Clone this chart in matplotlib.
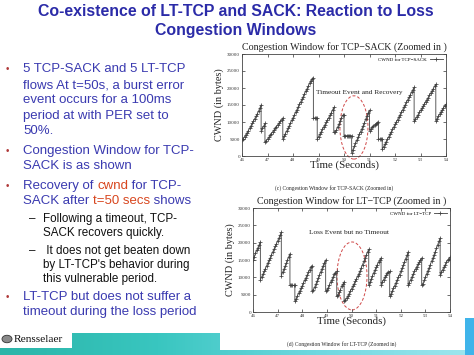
import matplotlib
matplotlib.use('Agg')
import matplotlib.pyplot as plt
from matplotlib.patches import Ellipse, Rectangle, Circle
from matplotlib.colors import LinearSegmentedColormap
import numpy as np

# ---------------- data ----------------
sack_t = [46.00, 46.05, 46.10, 46.15, 46.20, 46.25, 46.30, 46.35, 46.40, 46.45, 46.50, 46.55, 46.60, 46.65, 46.70, 46.75,
          46.75, 46.80, 46.85, 46.90,
          46.90, 46.95, 47.00, 47.05, 47.10, 47.15, 47.20, 47.25, 47.30, 47.35, 47.40, 47.45, 47.50, 47.55, 47.60,
          47.60, 47.65, 47.70, 47.75, 47.80, 47.85, 47.90, 47.95, 48.00, 48.05, 48.10, 48.15, 48.20, 48.25, 48.30,
          48.35, 48.40, 48.45, 48.50, 48.55, 48.60, 48.65, 48.70, 48.75, 48.80,
          48.80, 48.85, 48.90, 48.95,
          48.95, 49.00, 49.05, 49.10, 49.15, 49.20, 49.25, 49.30, 49.35, 49.40, 49.45, 49.50, 49.55, 49.60,
          49.60, 49.65, 49.70, 49.75, 49.80, 49.85, 49.90, 49.95, 50.00,
          50.00, 50.05, 50.10, 50.15, 50.20, 50.25, 50.30,
          50.30, 50.35, 50.40, 50.45, 50.50, 50.55, 50.60, 50.65, 50.70, 50.75, 50.80, 50.85, 50.90, 50.95, 51.00,
          51.00, 51.05, 51.10, 51.15, 51.20, 51.25, 51.30, 51.35,
          51.35, 51.40, 51.45, 51.50,
          51.50, 51.55, 51.60, 51.65, 51.70, 51.75, 51.80, 51.85, 51.90, 51.95, 52.00, 52.05, 52.10, 52.15, 52.20,
          52.25, 52.30, 52.35, 52.40, 52.45, 52.50, 52.55, 52.60, 52.65, 52.70, 52.75,
          52.75, 52.80, 52.85, 52.90, 52.95, 53.00, 53.05, 53.10, 53.15, 53.20, 53.25, 53.30, 53.35, 53.40, 53.45,
          53.50, 53.55, 53.60,
          53.60, 53.65, 53.70, 53.75, 53.80, 53.85, 53.90, 53.95, 54.00]
sack_cwnd = [4600, 5100, 5700, 6300, 6900, 7500, 8200, 8900, 9600, 10300, 11000, 11700, 12400, 13200, 14100, 15000,
             7500, 8100, 8800, 9600,
             4000, 4500, 5000, 5500, 6100, 6600, 7100, 7600, 8100, 8600, 9200, 9700, 10200, 10700, 11200,
             5000, 5800, 6600, 7300, 8100, 8900, 9700, 10500, 11300, 12000, 12800, 13600, 14400, 15200, 15900,
             16700, 17500, 18300, 19100, 19800, 20600, 21400, 22200, 22600, 23000,
             11200, 11200, 11200, 11200,
             5000, 5700, 6400, 7100, 7800, 8500, 9200, 9900, 10600, 11300, 12000, 12700, 13500, 14300,
             7000, 7000, 7600, 8500, 9400, 10300, 11200, 12000, 12200,
             6000, 6000, 6000, 6000, 6000, 6000, 6000,
             1000, 1900, 2800, 3700, 4600, 5500, 6400, 7200, 8000, 8900, 9800, 10800, 11800, 12700, 13500,
             7500, 8000, 8400, 8800, 9200, 9500, 9800, 10000,
             5000, 5000, 5000, 5000,
             2000, 2700, 3400, 4200, 4900, 5600, 6400, 7100, 7800, 8500, 9300, 10000, 10700, 11500, 12200,
             12900, 13600, 14400, 15100, 15800, 16600, 17300, 18000, 18800, 19500, 20200,
             10200, 10800, 11500, 12100, 12800, 13400, 14000, 14700, 15300, 16000, 16600, 17200, 17900, 18500, 19200,
             19800, 20500, 21100,
             10300, 11000, 11700, 12300, 13000, 13600, 14200, 14700, 15200]

lt_t = [46.00, 46.05, 46.10, 46.15, 46.20, 46.25, 46.30,
        46.30, 46.35, 46.40, 46.45, 46.50, 46.55, 46.60, 46.65, 46.70, 46.75, 46.80, 46.85, 46.90, 46.95, 47.00,
        47.05, 47.10, 47.15,
        47.15, 47.20, 47.25, 47.30, 47.35, 47.40, 47.45, 47.50,
        47.50, 47.55, 47.60, 47.65, 47.70,
        47.70, 47.75, 47.80, 47.85, 47.90, 47.95, 48.00, 48.05, 48.10, 48.15, 48.20, 48.25, 48.30, 48.35, 48.40,
        48.40, 48.45, 48.50, 48.55, 48.60, 48.65, 48.70, 48.75, 48.80, 48.85, 48.90, 48.95,
        48.95, 49.00, 49.05, 49.10, 49.15, 49.20, 49.25, 49.30, 49.35, 49.40,
        49.40, 49.45, 49.50, 49.55, 49.60, 49.65, 49.70,
        49.70, 49.75, 49.80, 49.85, 49.90, 49.95, 50.00, 50.05, 50.10, 50.15, 50.20, 50.25, 50.30, 50.35, 50.40,
        50.45, 50.50, 50.55, 50.60, 50.65, 50.70,
        50.70, 50.75, 50.80, 50.85, 50.90, 50.95, 51.00, 51.05, 51.10, 51.15, 51.20,
        51.20, 51.25, 51.30, 51.35, 51.40, 51.45, 51.50, 51.55,
        51.55, 51.60, 51.65, 51.70, 51.75, 51.80, 51.85, 51.90, 51.95, 52.00, 52.05, 52.10, 52.15, 52.20, 52.25, 52.30,
        52.30, 52.35, 52.40, 52.45, 52.50, 52.55, 52.60, 52.65, 52.70, 52.75, 52.80, 52.85,
        52.85, 52.90, 52.95, 53.00, 53.05, 53.10, 53.15, 53.20, 53.25, 53.30, 53.35, 53.40, 53.45, 53.50, 53.55, 53.60,
        53.60, 53.65, 53.70, 53.75, 53.80, 53.85, 53.90, 53.95, 54.00]
lt_cwnd = [15100, 16000, 16900, 17800, 18600, 19400, 20200,
           9300, 10100, 10900, 11700, 12500, 13300, 14100, 14900, 15700, 16500, 17300, 18100, 18900, 19700, 20500,
           21300, 22200, 23000,
           10500, 11400, 12300, 13200, 14100, 15000, 15900, 16800,
           7700, 7700, 7700, 7700, 7700,
           3100, 3800, 4600, 5400, 6100, 6900, 7600, 8400, 9200, 9900, 10700, 11400, 12200, 13000, 13300,
           6200, 6300, 7100, 8000, 8900, 9800, 10700, 11600, 12500, 13400, 14200, 15000,
           6200, 6300, 7000, 7800, 8600, 9300, 10100, 10900, 11300, 11700,
           4500, 5000, 5700, 6400, 7500, 8000, 8700,
           3100, 3400, 4000, 4600, 5300, 6000, 6700, 7400, 8100, 8800, 9600, 10300, 11100, 11900, 12800,
           13700, 14600, 15500, 16400, 17300, 18100,
           7700, 8600, 9500, 10400, 11300, 12100, 12900, 13700, 14400, 15100, 15600,
           7900, 8600, 9300, 10000, 10600, 11200, 11400, 11700,
           4500, 5200, 6000, 6800, 7600, 8400, 9200, 10000, 10800, 11700, 12600, 13500, 14400, 15400, 16300, 17300,
           7700, 8500, 9300, 10100, 10900, 11700, 12400, 13100, 13800, 14400, 15000, 15600,
           7700, 8200, 9100, 10000, 11000, 11900, 12800, 13700, 14600, 15500, 16500, 17400, 18400, 19400, 20400, 21300,
           10600, 11400, 12200, 12900, 13600, 14300, 14900, 15400, 15800]

x_ticks = [46, 47, 48, 49, 50, 51, 52, 53, 54]
y_ticks = [0, 5000, 10000, 15000, 20000, 25000, 30000]

# ---------------- figure ----------------
W, H = 474, 355
fig = plt.figure(figsize=(W / 100, H / 100), dpi=100)
fig.patch.set_facecolor('white')

def fx(px):
    return px / W

def fy(py):
    return 1 - py / H

SANS = 'Liberation Sans'
SERIF = 'Liberation Serif'

# bottom decorative band
band = fig.add_axes([0, 0, 1, 1 - 333 / H], zorder=0)
grad = np.linspace(0, 1, 256).reshape(1, -1)
cmap = LinearSegmentedColormap.from_list('band', ['#2bb5a8', '#39c6c0', '#6fd8e0', '#9fe6ee'])
band.imshow(grad, aspect='auto', cmap=cmap, extent=[0, 1, 0, 1])
band.set_axis_off()
fig.patches.append(Rectangle((fx(220), fy(350)), fx(465) - fx(220), fy(333) - fy(350),
                             transform=fig.transFigure, facecolor='white', edgecolor='none', zorder=1))
fig.patches.append(Rectangle((fx(465), 0), 1 - fx(465), fy(318), transform=fig.transFigure,
                             facecolor='#3fb4ea', edgecolor='none', zorder=1))
fig.patches.append(Rectangle((0, fy(348)), fx(72), fy(331) - fy(348), transform=fig.transFigure,
                             facecolor='white', edgecolor='none', zorder=1))
fig.patches.append(Circle((fx(7), fy(339)), 5 / W, transform=fig.transFigure,
                          facecolor='#8a8a8a', edgecolor='#333333', lw=0.6, zorder=2))
fig.text(fx(14), fy(339), 'Rensselaer', fontsize=8.2, family=SERIF, color='#111111',
         ha='left', va='center', zorder=3)

# title
title_col = '#2b2ba8'
fig.text(fx(236), fy(12), 'Co-existence of LT-TCP and SACK: Reaction to Loss', fontsize=11.4,
         fontweight='bold', family=SANS, color=title_col, ha='center', va='center')
fig.text(fx(236), fy(30), 'Congestion Windows', fontsize=11.4, fontweight='bold', family=SANS,
         color=title_col, ha='center', va='center')

# left bullet text
renderer = fig.canvas.get_renderer()
blue = '#3a3ab0'
red = '#d8461e'
black = '#111111'

def text_width(s, size):
    t = fig.text(0, 0, s + '|', fontsize=size, family=SANS)
    w1 = t.get_window_extent(renderer).width
    t.remove()
    t = fig.text(0, 0, '|', fontsize=size, family=SANS)
    w2 = t.get_window_extent(renderer).width
    t.remove()
    return w1 - w2

def runs(x, y, parts, size):
    prefix = ''
    for s, c in parts:
        off = text_width(prefix, size) if prefix else 0
        fig.text(fx(x + off), fy(y), s, fontsize=size, family=SANS, color=c, ha='left', va='center')
        prefix += s

MAIN = 9.5
SUB = 8.4
bullet_lines = [
    (69, True, [('5 TCP-SACK and 5 LT-TCP', blue)]),
    (85, False, [('flows At t=50s, a burst error', blue)]),
    (100, False, [('event occurs for a 100ms', blue)]),
    (116, False, [('period at with PER set to', blue)]),
    (131, False, [('50%.', blue)]),
    (151, True, [('Congestion Window for TCP-', blue)]),
    (166, False, [('SACK is as shown', blue)]),
    (186, True, [('Recovery of ', blue), ('cwnd', red), (' for TCP-', blue)]),
    (201, False, [('SACK after ', blue), ('t=50 secs', red), (' shows', blue)]),
    (297, True, [('LT-TCP but does not suffer a', blue)]),
    (312, False, [('timeout during the loss period', blue)]),
]
for y, bul, parts in bullet_lines:
    if bul:
        fig.text(fx(6), fy(y), '\u2022', fontsize=7, family=SANS, color='#b03a3a', ha='left', va='center')
    runs(23, y, parts, MAIN)

sub_lines = [
    (219, True, 'Following a timeout, TCP-'),
    (233, False, 'SACK recovers quickly.'),
    (251, True, ' It does not get beaten down'),
    (265, False, "by LT-TCP's behavior during"),
    (279, False, 'this vulnerable period.'),
]
for y, dash, s in sub_lines:
    if dash:
        fig.text(fx(29), fy(y), '\u2013', fontsize=SUB, family=SANS, color=black, ha='left', va='center')
    fig.text(fx(43), fy(y), s, fontsize=SUB, family=SANS, color=black, ha='left', va='center')

# ---------------- charts ----------------
def make_chart(rect, t, v, title, label, note, note_xy, ell, caption, cap_y):
    ax = fig.add_axes(rect, zorder=5)
    ax.plot(t, v, color='#505050', lw=0.65, marker='+', ms=2.6, mew=0.55, mec='#404040', label=label)
    ax.set_xlim(46, 54)
    ax.set_ylim(0, 30000)
    ax.set_xticks(x_ticks)
    ax.set_yticks(y_ticks)
    ax.set_xticklabels([str(x) for x in x_ticks], family=SERIF, fontsize=3.6)
    ax.set_yticklabels([str(y) for y in y_ticks], family=SERIF, fontsize=3.6)
    ax.tick_params(direction='in', length=2, width=0.5, top=True, right=True, pad=1.5, colors='#333333')
    for sp in ax.spines.values():
        sp.set_linewidth(0.6)
        sp.set_color('#444444')
    ax.set_title(title, family=SERIF, fontsize=7.2, pad=3, color='#222222')
    ax.set_xlabel('Time (Seconds)', family=SERIF, fontsize=7.8, labelpad=-1, color='#222222')
    ax.set_ylabel('CWND (in bytes)', family=SERIF, fontsize=7.4, labelpad=2, color='#222222')
    ax.legend(loc='upper right', frameon=False, prop={'family': SERIF, 'size': 3.6},
              markerfirst=False, handlelength=2.5, borderaxespad=0.3, handletextpad=0.6)
    ax.text(note_xy[0], note_xy[1], note, family=SERIF, fontsize=5.3, color='#222222', ha='left', va='center')
    e = Ellipse(ell[:2], ell[2], ell[3], fill=False, ls=(0, (3, 2)), lw=0.7, edgecolor='#d04848', clip_on=False)
    ax.add_patch(e)
    fig.text(rect[0] + rect[2] / 2 - 0.02, fy(cap_y), caption, family=SERIF, fontsize=4.0,
             color='#222222', ha='center', va='center', zorder=6)
    return ax

make_chart([fx(242), fy(156), fx(446) - fx(242), fy(54) - fy(156)], sack_t, sack_cwnd,
           'Congestion Window for TCP\u2212SACK (Zoomed in )', 'CWND for TCP\u2212SACK',
           'Timeout Event and Recovery', (48.9, 18800), (50.39, 8400, 1.1, 18600),
           '(c) Congestion Window for TCP-SACK (Zoomed in)', 188)

make_chart([fx(253), fy(312), fx(450) - fx(253), fy(208) - fy(312)], lt_t, lt_cwnd,
           'Congestion Window for LT\u2212TCP (Zoomed in )', 'CWND for LT\u2212TCP',
           'Loss Event but no Timeout', (48.27, 22800), (50.02, 10400, 1.22, 19600),
           '(d) Congestion Window for LT-TCP (Zoomed in)', 344)

fig.savefig('out.png', dpi=100)
